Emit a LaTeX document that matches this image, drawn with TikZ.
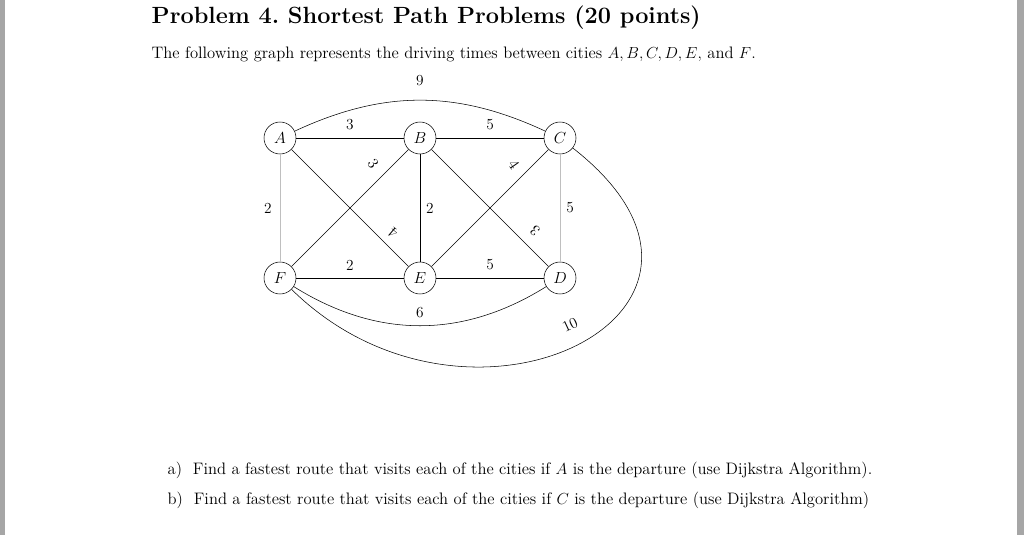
\documentclass[tikz,border=0pt]{standalone}
\begin{document}
\begin{tikzpicture}[x=0.75pt,y=-0.75pt,
  city/.style={circle,draw,minimum size=24pt,inner sep=0pt,font=\fontsize{11.5}{13}\selectfont},
  lab/.style={font=\fontsize{11.5}{13}\selectfont}]
\useasboundingbox (0,0) rectangle (1024,535);
\fill[gray!70] (0,0) rectangle (5,535);
\fill[gray!70] (1017,0) rectangle (1024,535);
\node[anchor=base west,font=\fontsize{17.6}{20}\selectfont\bfseries] (t) at (147,24) {Problem 4.\ Shortest Path Problems (20 points)};
\node[anchor=base west,font=\fontsize{12.45}{14}\selectfont] (s) at (147,59) {The following graph represents the driving times between cities $A,B,C,D,E,$ and $F$.};
\node[city] (A) at (280,138) {$A$};
\node[city] (B) at (420,138) {$B$};
\node[city] (C) at (560,138) {$C$};
\node[city] (F) at (280,278) {$F$};
\node[city] (E) at (420,278) {$E$};
\node[city] (D) at (560,278) {$D$};
\draw (A) -- (B);
\draw (B) -- (C);
\draw[gray!50] (A) -- (F);
\draw[gray!50] (C) -- (D);
\draw (B) -- (E);
\draw (F) -- (E);
\draw (E) -- (D);
\draw (A) -- (E);
\draw (F) -- (B);
\draw (B) -- (D);
\draw (E) -- (C);
\draw (A) to[bend left=25] (C);
\draw (F) to[bend right=32] (D);
\draw (C) .. controls (780,310) and (470,465) .. (F);
\node[lab] (l1) at (350,125) {3};
\node[lab] (l2) at (490,125) {5};
\node[lab] (l3) at (268,208) {2};
\node[lab] (l4) at (430,208) {2};
\node[lab] (l5) at (570,208) {5};
\node[lab] (l6) at (350,265) {2};
\node[lab] (l7) at (490,265) {5};
\node[lab] (l8) at (420,81) {9};
\node[lab] (l9) at (420,313) {6};
\node[lab,rotate=25] (l10) at (570,325) {10};
\node[lab,rotate=-55] (l11) at (373,164) {3};
\node[lab,rotate=140] (l12) at (393,233) {4};
\node[lab,rotate=-55] (l13) at (514,165) {4};
\node[lab,rotate=140] (l14) at (535,231) {3};
\node[anchor=base west,font=\fontsize{12.45}{14}\selectfont] (qa) at (163,474) {a)\ \ Find a fastest route that visits each of the cities if $A$ is the departure (use Dijkstra Algorithm).};
\node[anchor=base west,font=\fontsize{12.45}{14}\selectfont] (qb) at (163,504) {b)\ \ Find a fastest route that visits each of the cities if $C$ is the departure (use Dijkstra Algorithm)};
\end{tikzpicture}
\end{document}
